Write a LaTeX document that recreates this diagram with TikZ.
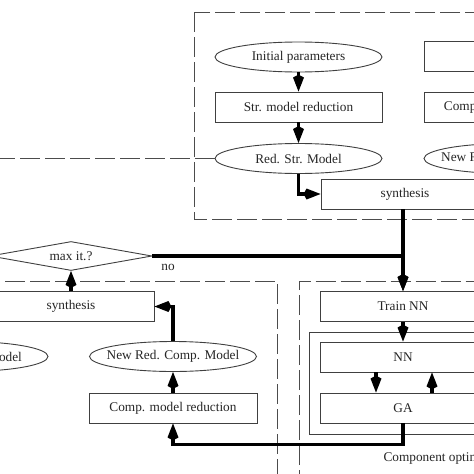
\documentclass[tikz,border=0pt]{standalone}
\usepackage{fontspec}
\setmainfont{Liberation Serif}
\usetikzlibrary{arrows.meta,shapes.geometric}
\begin{document}
\begin{tikzpicture}[x=1pt,y=-1pt,
  every node/.style={font=\fontsize{13.3}{15}\selectfont, text=black!85},
  box/.style={draw=black!75, line width=0.9pt, minimum width=167pt, minimum height=30pt, inner sep=0pt},
  ell/.style={draw=black!75, line width=0.9pt, ellipse, minimum width=167pt, minimum height=30pt, inner sep=0pt},
  conn/.style={line width=3.2pt, -{Kite[length=17pt,width=11pt,inset=3pt]}},
  dbox/.style={draw=black!70, line width=0.9pt, dash pattern=on 20pt off 5pt},
  sbox/.style={draw=black!75, line width=0.9pt},
]
\path[use as bounding box, clip] (0,0) rectangle (474,474);
\fill[white] (0,0) rectangle (474,474);

% frames
\draw[dbox] (194,12) rectangle (620,219);
\draw[dbox] (-20,281.5) -- (277.5,281.5) -- (277.5,490);
\draw[dbox] (299,490) -- (299,281.5) -- (620,281.5);
\draw[sbox] (309,332) rectangle (497,434);

% top region
\node[ell] (ip) at (298.5,57) {\makebox[0pt]{Initial parameters}};
\node[box] (smr) at (298.5,107) {Str. model reduction};
\node[ell] (rsm) at (298.5,158.5) {\makebox[0pt]{Red. Str. Model}};
\node[box, minimum width=168pt] (syn1) at (405,194) {synthesis};
\node[box] (tr1) at (507.5,56.5) {};
\node[box] (cmr1) at (507.5,107) {Comp. model reduction};
\node[ell] (nrcm1) at (507.5,158.5) {\makebox[0pt]{New Red. Comp. Model}};

% left bottom
\node[draw=black!75, line width=0.9pt, diamond, aspect=5.6, minimum width=162pt, minimum height=29pt, inner sep=0pt] (dia) at (71,256) {max it.?};
\node (no) at (168,267) {no};
\node[box, minimum width=166pt] (syn2) at (71,306.5) {synthesis};
\node[ell] (rsm2) at (-35.5,356.5) {\makebox[0pt]{New Red. Str. Model}};
\node[ell] (nrcm) at (173,356.5) {\makebox[0pt]{New Red. Comp. Model}};
\node[box, minimum width=168pt] (cmr) at (173,408) {Comp. model reduction};

% right bottom
\node[box, minimum width=166pt] (tnn) at (403,306.5) {Train NN};
\node[box, minimum width=166pt] (nn) at (403,357) {NN};
\node[box, minimum width=166pt] (ga) at (403,408) {GA};
\node[anchor=west] (co) at (380,459) {Component optimization};

% dashed link
\coordinate (lft) at (-5,158.5);
\draw[dbox] (lft) -- (rsm.west);

% connectors
\draw[conn] (ip) -- (smr);
\draw[conn] (smr) -- (rsm);
\draw[conn] (rsm.south) |- (syn1.west);
\draw[conn] (syn1.south -| tnn.north) -- (tnn.north);
\draw[conn] (dia.east) -| (tnn.north);
\draw[conn] (syn2.north) -- (dia.south);
\draw[conn] (tnn) -- (nn);
\draw[conn] ([xshift=-27pt]nn.south) -- ([xshift=-27pt]ga.north);
\draw[conn] ([xshift=29pt]ga.north) -- ([xshift=29pt]nn.south);
\draw[conn] (cmr) -- (nrcm);
\draw[conn] (nrcm.north) |- (syn2.east);
\draw[conn] (ga.south) -- ++(0,21) -| (cmr.south);
\end{tikzpicture}
\end{document}
